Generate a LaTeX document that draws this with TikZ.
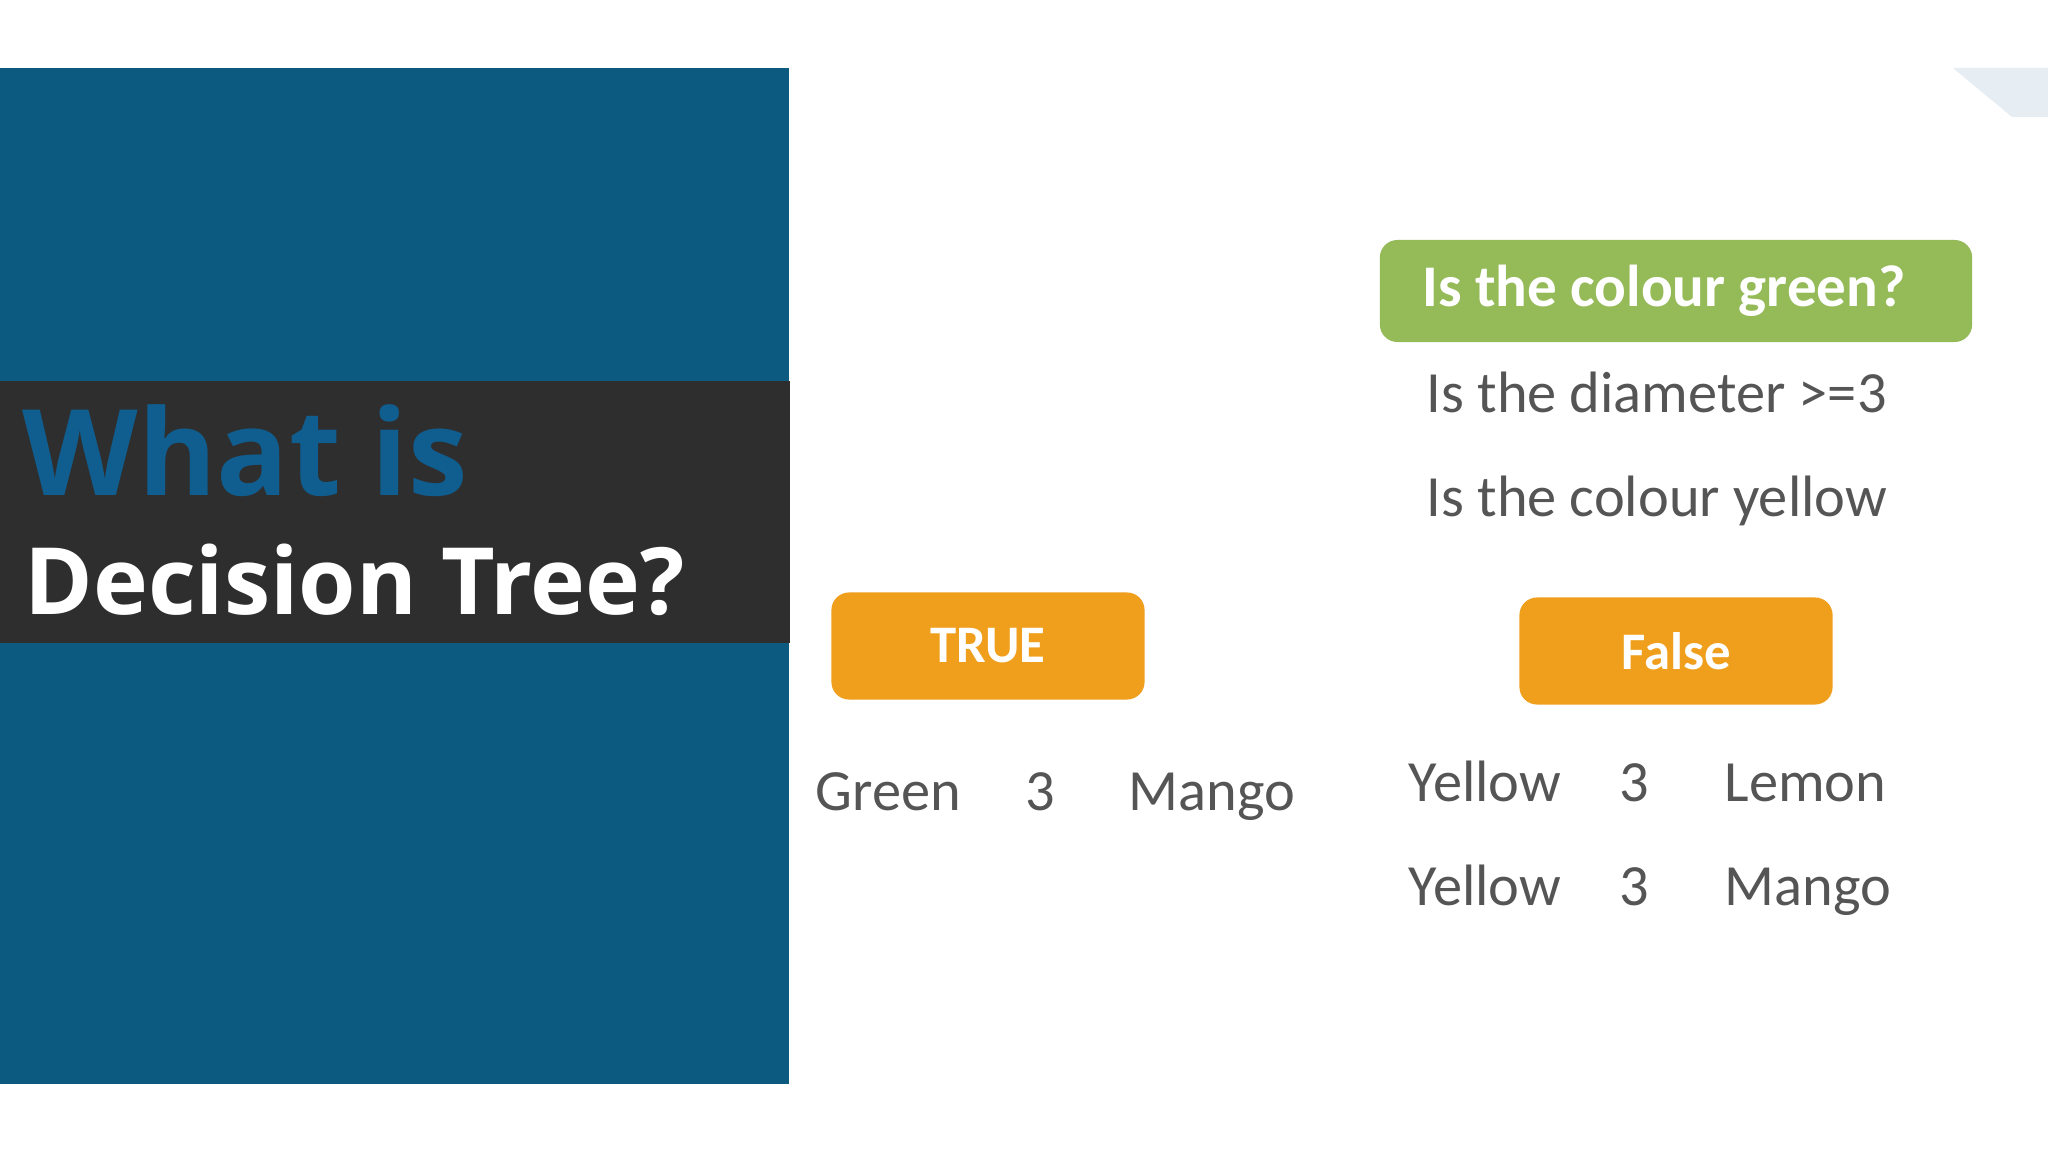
\documentclass[tikz,border=0pt]{standalone}
\usepackage{fontspec}
\setmainfont{Carlito}
\newfontfamily\headfont{Open Sans}
\usepackage{tikz}
\usetikzlibrary{positioning}
\definecolor{panelblue}{HTML}{0C5A80}
\definecolor{bandgrey}{HTML}{2E2E2F}
\definecolor{titleblue}{HTML}{0F5E8F}
\definecolor{leafgreen}{HTML}{95BA58}
\definecolor{boxorange}{HTML}{F09F1C}
\definecolor{textgrey}{HTML}{555555}
\definecolor{cornerblue}{HTML}{E6EDF3}
\tikzset{answerbox/.style={fill=boxorange, rounded corners=5pt, text=white, font=\bfseries\fontsize{15}{18}\selectfont, minimum width=3.13cm, minimum height=1.07cm}}
\tikzset{qtext/.style={anchor=base west, inner sep=0, text=textgrey, font=\fontsize{16.6}{20}\selectfont}}

\begin{document}
\begin{tikzpicture}[x=0.01cm,y=-0.01cm]
\useasboundingbox (0,0) rectangle (2048,1152);
\fill[white] (0,0) rectangle (2048,1152);
% left panel
\fill[panelblue] (0,68) rectangle (789,1084);
\fill[bandgrey] (0,381) rectangle (790,643);
\fill[cornerblue] (1953,68) -- (2048,68) -- (2048,117) -- (2012,117) -- cycle;
\node[anchor=base west, inner sep=0, text=titleblue, font=\headfont\bfseries\fontsize{34}{40}\selectfont] (whatis) at (22,496) {What is};
\node[anchor=base west, inner sep=0, text=white, font=\headfont\bfseries\fontsize{26.4}{30}\selectfont] (dtree) at (24,614) {Decision Tree?};
% questions
\node[fill=leafgreen, rounded corners=5pt, text=white, font=\bfseries\fontsize{16.8}{20}\selectfont, minimum width=5.92cm, minimum height=1.02cm] (qgreen) at (1676,291) {Is the colour green?\kern0.24cm};
\node[qtext] (qdiam) at (1426,413) {Is the diameter >=3};
\node[qtext] (qyellow) at (1426,517) {Is the colour yellow};
% answers
\node[answerbox] (true) at (988,646) {TRUE};
\node[answerbox] (false) at (1676,651) {False};
%\node[qtext] at (815,810) {Green 3 Mango};
\node[qtext] (tcol) at (815,810) {Green};
\node[qtext] (tdiam) at (1025,810) {3};
\node[qtext] (tfruit) at (1128,810) {Mango};
\node[qtext] (fcola) at (1408,801) {Yellow};
\node[qtext] (fdiama) at (1619,801) {3};
\node[qtext] (ffruita) at (1724,801) {Lemon};
\node[qtext] (fcolb) at (1408,905) {Yellow};
\node[qtext] (fdiamb) at (1619,905) {3};
\node[qtext] (ffruitb) at (1724,905) {Mango};
\end{tikzpicture}
\end{document}
